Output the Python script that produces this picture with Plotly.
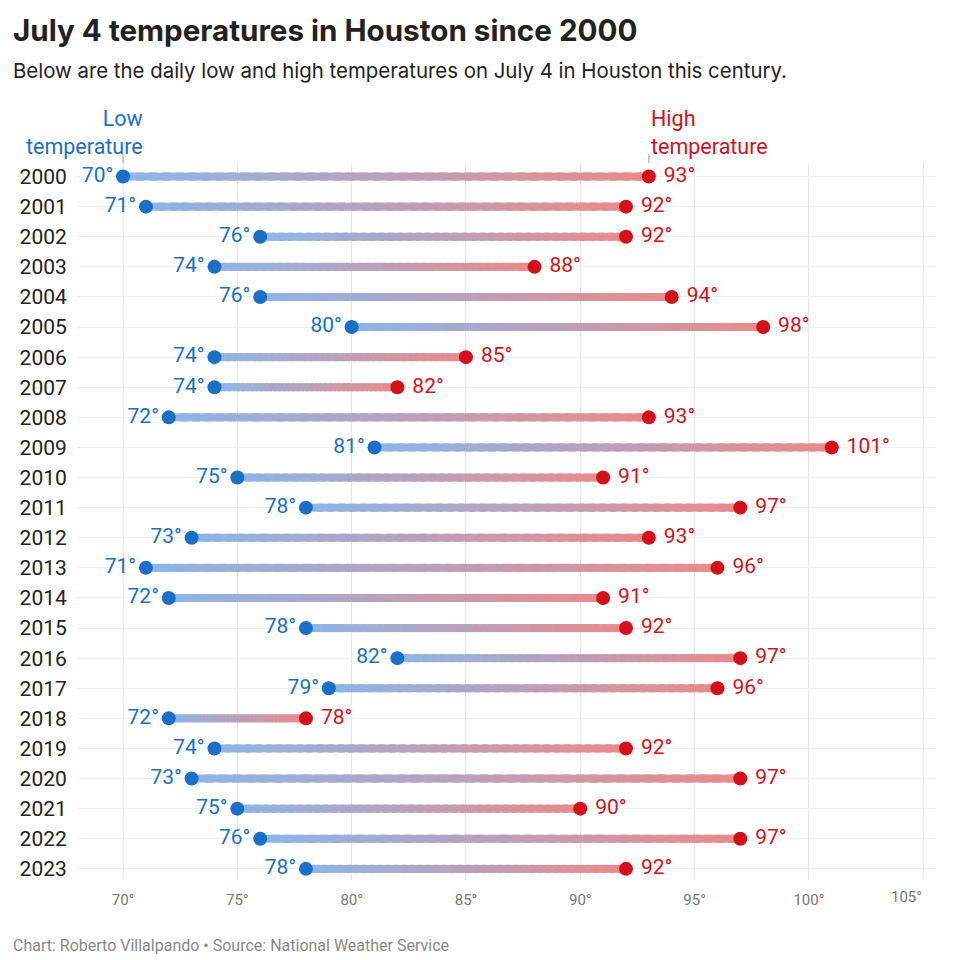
import plotly.graph_objects as go

years = list(range(2000, 2024))
lows = [70, 71, 76, 74, 76, 80, 74, 74, 72, 81, 75, 78, 73, 71, 72, 78, 82, 79, 72, 74, 73, 75, 76, 78]
highs = [93, 92, 92, 88, 94, 98, 85, 82, 93, 101, 91, 97, 93, 96, 91, 92, 97, 96, 78, 92, 97, 90, 97, 92]
x_ticks = [70, 75, 80, 85, 90, 95, 100, 105]

BLUE = "#1a6fc8"
RED = "#d6101a"
LINE_START = (140, 182, 232)
LINE_END = (234, 138, 138)
FONT = "Roboto"

L, R, T, B = 78, 24, 163, 80
PW, PH = 960 - L - R, 960 - T - B

fig = go.Figure()

# gradient connector lines: short overlapping segments with interpolated colours
N = 40
for k in range(N):
    xs, ys = [], []
    for y, lo, hi in zip(years, lows, highs):
        a = lo + (hi - lo) * k / N
        b = lo + (hi - lo) * min(k + 1.6, N) / N
        xs += [a, b, None]
        ys += [y, y, None]
    t = (k + 0.5) / N
    c = tuple(round(LINE_START[i] + (LINE_END[i] - LINE_START[i]) * t) for i in range(3))
    fig.add_trace(go.Scatter(x=xs, y=ys, mode="lines",
                             line=dict(color=f"rgb{c}", width=8),
                             hoverinfo="skip", showlegend=False))

fig.add_trace(go.Scatter(
    x=lows, y=years, mode="markers+text",
    marker=dict(color=BLUE, size=14),
    text=[f"{v}°" for v in lows], textposition="middle left",
    textfont=dict(color=BLUE, size=21, family=FONT),
    showlegend=False, name="Low"))
fig.add_trace(go.Scatter(
    x=highs, y=years, mode="markers+text",
    marker=dict(color=RED, size=14),
    text=[f" {v}°" for v in highs], textposition="middle right",
    textfont=dict(color=RED, size=21, family=FONT),
    showlegend=False, name="High"))

fig.update_layout(
    width=960, height=960,
    margin=dict(l=L, r=R, t=T, b=B),
    plot_bgcolor="white", paper_bgcolor="white",
    font=dict(family=FONT),
    title=dict(text="<b>July 4 temperatures in Houston since 2000</b>",
               x=13 / 960, xanchor="left", y=1 - 31 / 960, yanchor="middle",
               font=dict(size=29.6, color="#222", family="Inter")),
    xaxis=dict(range=[68.03, 105.56], tickvals=x_ticks,
               ticktext=[f"{v}°" for v in x_ticks[:-1]] + [""],
               showgrid=True, gridcolor="#e6e6e6", zeroline=False,
               tickfont=dict(size=15, color="#777"), ticks="outside",
               ticklen=6, tickcolor="white", showline=False),
    yaxis=dict(range=[2023.37, 1999.55], tickvals=years,
               ticktext=[str(y) for y in years],
               showgrid=True, gridcolor="#efefef", zeroline=False,
               tickfont=dict(size=21, color="#222"), ticks="outside",
               ticklen=6, tickcolor="white", showline=False),
)

# last x tick label right-aligned to its gridline
fig.add_annotation(text=f"{x_ticks[-1]}°", xref="x", yref="paper",
                   x=x_ticks[-1], y=-(897 - (T + PH)) / PH, xanchor="right", yanchor="middle",
                   showarrow=False, borderpad=0, font=dict(size=15, color="#777", family=FONT))

fig.add_annotation(text="Below are the daily low and high temperatures on July 4 in Houston this century.",
                   xref="paper", yref="paper", x=(11 - L) / PW, y=1 + 93 / PH,
                   xanchor="left", yanchor="middle", showarrow=False,
                   font=dict(size=20.4, color="#222", family="Inter"))
fig.add_annotation(text="Chart: Roberto Villalpando • Source: National Weather Service",
                   xref="paper", yref="paper", x=(11 - L) / PW, y=-66 / PH,
                   xanchor="left", yanchor="middle", showarrow=False,
                   font=dict(size=16, color="#888", family=FONT))
fig.add_annotation(text="Low<br>temperature", xref="x", yref="paper",
                   x=lows[0] + 0.95, y=1 + 2 / PH, xanchor="right", yanchor="bottom",
                   align="right", showarrow=False,
                   font=dict(size=21.5, color=BLUE, family=FONT))
fig.add_annotation(text="High<br>temperature", xref="x", yref="paper",
                   x=highs[0], y=1 + 2 / PH, xanchor="left", yanchor="bottom",
                   align="left", showarrow=False,
                   font=dict(size=21.5, color=RED, family=FONT))
for xv in (lows[0], highs[0]):
    fig.add_shape(type="line", xref="x", yref="paper", x0=xv, x1=xv,
                  y0=1, y1=1 + 9 / PH, line=dict(color="#999", width=1))

fig.write_html("out.html")
